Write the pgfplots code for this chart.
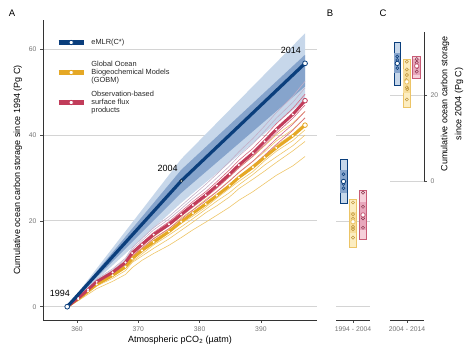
\documentclass[border=0pt]{standalone}
\usepackage{pgfplots}
\pgfplotsset{compat=1.18}
\usepackage{pgfplotstable}
\usepackage{fontspec}
\setmainfont{Liberation Sans}

\definecolor{navy}{RGB}{10,62,124}
\definecolor{bandlight}{RGB}{199,215,234}
\definecolor{banddark}{RGB}{134,164,204}
\definecolor{rose}{RGB}{193,60,90}
\definecolor{gold}{RGB}{229,168,37}
\definecolor{goldthin}{RGB}{238,198,105}
\definecolor{rosethin}{RGB}{214,104,130}
\definecolor{lilac}{RGB}{196,176,200}
\definecolor{goldbox}{RGB}{252,237,193}
\definecolor{goldboxin}{RGB}{247,222,158}
\definecolor{goldedge}{RGB}{236,196,102}
\definecolor{goldpt}{RGB}{190,148,58}
\definecolor{rosebox}{RGB}{246,208,218}
\definecolor{roseboxin}{RGB}{232,168,188}
\definecolor{roseedge}{RGB}{200,92,118}
\definecolor{rosept}{RGB}{140,55,78}

% cumulative uptake since 1994 against atmospheric pCO2
% p: pCO2; g1..g7: ocean models; r1..r6: flux products; gm, rm: ensemble means
\pgfplotstableread{
p      g1   g2   g3   g4   g5   g6   g7   r1   r2   r3   r4   r5   r6   gm   rm
358.4  0    0    0    0    0    0    0    0    0    0    0    0    0    0    0
360.2  1.4  1.6  1.8  1.7  1.9  1.9  2.0  1.8  1.9  2.0  2.1  2.1  2.2  1.8  2.0
361.8  2.9  3.4  3.3  3.6  3.6  3.8  3.9  3.7  3.8  3.9  4.1  4.2  4.4  3.6  4.0
363.2  4.2  4.8  4.9  5.2  5.4  5.3  5.6  5.3  5.5  5.7  6.0  6.2  6.4  5.2  5.8
365.8  5.9  6.6  7.0  7.1  7.5  7.7  7.9  7.3  7.6  7.8  8.3  8.5  8.8  7.3  8.0
367.9  7.5  8.4  8.9  9.0  9.3  9.6  10.0 9.5  9.8  10.1 10.6 11.0 11.3 9.3  10.3
369.0  9.1  10.3 10.5 11.0 11.4 11.8 12.1 11.4 11.8 12.2 12.9 13.3 13.7 11.2 12.5
370.6  10.8 11.8 12.3 12.9 13.2 13.5 14.1 13.3 13.7 14.2 14.9 15.4 15.9 13.1 14.5
372.5  12.4 13.6 14.4 14.6 15.4 15.8 16.3 15.4 15.9 16.5 17.3 17.9 18.4 15.1 16.8
375.0  14.3 15.8 16.7 17.2 17.6 18.1 18.9 17.6 18.2 18.8 19.8 20.4 21.0 17.5 19.2
377.0  16.1 17.8 18.6 19.4 20.1 20.7 21.4 19.7 20.4 21.1 22.2 22.8 23.5 19.8 21.5
378.9  17.9 19.7 20.5 21.1 21.9 22.6 23.5 21.7 22.5 23.2 24.5 25.2 25.9 21.8 23.7
381.0  19.7 21.9 22.7 23.2 24.3 25.0 25.8 23.8 24.7 25.5 26.8 27.6 28.5 23.9 26.0
382.8  21.3 23.5 24.6 25.3 26.1 26.8 27.9 25.9 26.8 27.6 29.1 30.0 30.9 25.9 28.2
384.9  23.2 25.6 26.6 27.6 28.6 29.4 30.4 28.3 29.3 30.3 31.9 32.8 33.8 28.2 30.9
386.4  24.8 27.5 28.4 29.2 30.4 31.2 32.5 30.3 31.3 32.3 34.1 35.1 36.1 30.1 33.0
388.7  26.8 29.7 30.8 31.5 33.0 33.9 35.0 32.8 33.9 35.1 36.9 38.0 39.2 32.5 35.8
390.6  28.7 31.6 33.0 34.0 35.1 36.1 37.5 35.3 36.5 37.7 39.7 40.9 42.1 34.8 38.5
392.5  30.6 33.6 34.9 36.2 37.6 38.6 40.0 37.8 39.1 40.4 42.6 43.9 45.2 37.0 41.3
395.2  32.8 36.3 37.5 38.7 40.2 41.3 42.8 41.1 42.5 43.9 46.2 47.6 49.0 39.8 44.8
397.2  35.0 38.5 40.0 41.2 42.8 44.0 45.5 44.0 45.5 47.0 49.5 51.0 52.5 42.3 48.0
}\tracks

\pgfplotsset{
  panel/.style={
    scale only axis, anchor=south west, clip=false,
    axis line style={-, draw=black!80, line width=0.9pt},
    tick style={draw=black!70, line width=0.6pt},
    tick align=outside, major tick length=3pt,
    ticklabel style={font=\fontsize{6.8}{8}\selectfont, text=black!55},
    /pgf/number format/assume math mode=true,
    ymajorgrids, grid style={draw=black!17, line width=0.8pt},
    label style={font=\fontsize{9}{10}\selectfont},
  },
}

\begin{document}
\begin{tikzpicture}
\path[use as bounding box] (0,0) rectangle (474pt,355pt);

% ---------------- panel A ----------------
\begin{axis}[panel,
  at={(43pt,35pt)}, width=274pt, height=300pt,
  xmin=354.45, xmax=399.15, ymin=-3.1, ymax=66.8,
  axis x line*=bottom, axis y line*=left,
  xtick={360,370,380,390}, ytick={0,20,40,60},
  xlabel={Atmospheric pCO\textsubscript{2} (µatm)},
  ylabel={Cumulative ocean carbon storage since 1994 (Pg C)},
  xlabel style={yshift=2pt},
  legend cell align=left,
  legend image code/.code={
    \draw[#1, line width=4.5pt] (0pt,0pt) -- (25pt,0pt);
    \draw[#1, line width=0.8pt, fill=white] (12.5pt,0pt) circle (2.2pt);
  },
  legend style={draw=none, fill=none, at={(0.049,0.9633)}, anchor=north west,
    inner sep=0pt, outer sep=0pt, row sep=7pt, column sep=5.5pt,
    font=\fontsize{7.4}{7.7}\selectfont,
    nodes={minimum height=23pt, inner sep=0pt, align=left, text=black!85}},
]
\addlegendimage{draw=navy}
\addlegendentry{eMLR(C*)}
\addlegendimage{draw=gold}
\addlegendentry{Global Ocean\\Biogeochemical Models\\(GOBM)}
\addlegendimage{draw=rose}
\addlegendentry{Observation-based\\surface flux\\products}

% uncertainty envelopes of the eMLR(C*) estimate
\addplot[forget plot, fill=bandlight, draw=none]
  coordinates {(358.4,0) (377.0,34.4) (397.2,63.7) (397.2,48.2) (377.0,24.2)} --cycle;
\addplot[forget plot, fill=banddark, draw=none]
  coordinates {(358.4,0) (377.0,31.9) (397.2,58.7) (397.2,51.3) (377.0,26.5)} --cycle;

% individual models and products
\pgfplotsinvokeforeach{g1,g2,g3,g4,g5,g6,g7}{
  \addplot[forget plot, goldthin, line width=0.6pt] table[x=p, y=#1] {\tracks};
}
\pgfplotsinvokeforeach{r1,r2,r3,r4}{
  \addplot[forget plot, rosethin, line width=0.6pt] table[x=p, y=#1] {\tracks};
}
\pgfplotsinvokeforeach{r5,r6}{
  \addplot[forget plot, lilac, line width=0.6pt] table[x=p, y=#1] {\tracks};
}

% ensemble means
\addplot[forget plot, gold, line width=3pt, line join=round] table[x=p, y=gm] {\tracks};
\addplot[forget plot, only marks, mark=*, mark size=0.8pt, white] table[x=p, y=gm] {\tracks};
\addplot[forget plot, only marks, mark=*, mark size=2.3pt, draw=gold, fill=white, line width=0.8pt]
  coordinates {(397.2,42.3)};
\addplot[forget plot, rose, line width=3pt, line join=round] table[x=p, y=rm] {\tracks};
\addplot[forget plot, only marks, mark=*, mark size=0.8pt, white] table[x=p, y=rm] {\tracks};
\addplot[forget plot, only marks, mark=*, mark size=2.3pt, draw=rose, fill=white, line width=0.8pt]
  coordinates {(397.2,48.0)};

% eMLR(C*)
\addplot[forget plot, navy, line width=3.2pt, line join=round]
  coordinates {(358.4,0) (377.0,29.3) (397.2,56.7)};
\addplot[forget plot, only marks, mark=*, mark size=2.4pt, draw=navy, fill=white, line width=0.8pt]
  coordinates {(358.4,0) (397.2,56.7)};
\addplot[forget plot, only marks, mark=*, mark size=1.4pt, draw=none, fill=white!85!cyan]
  coordinates {(377.0,29.3)};

\node[font=\fontsize{9}{10}\selectfont] at (axis cs:357.2,3.2) {1994};
\node[font=\fontsize{9}{10}\selectfont] at (axis cs:374.8,32.3) {2004};
\node[font=\fontsize{9}{10}\selectfont] at (axis cs:394.9,59.6) {2014};
\end{axis}

% ---------------- panel B ----------------
\begin{axis}[panel,
  at={(336pt,35pt)}, width=34pt, height=206.3pt,
  xmin=0, xmax=34, ymin=-3.1, ymax=45,
  axis x line*=bottom, axis y line*=left,
  y axis line style={draw=none}, ytick style={draw=none},
  ytick={0,20,40}, yticklabels={,,},
  xtick={17}, xticklabels={1994 - 2004},
]
\addplot[fill=bandlight, draw=navy, line width=0.8pt]
  coordinates {(4,24.2) (11,24.2) (11,34.4) (4,34.4)} --cycle;
\addplot[fill=banddark, draw=none]
  coordinates {(4.4,26.5) (10.6,26.5) (10.6,31.9) (4.4,31.9)} --cycle;
\addplot[fill=goldbox, draw=goldedge, line width=0.8pt]
  coordinates {(13.5,13.8) (20.5,13.8) (20.5,25.0) (13.5,25.0)} --cycle;
\addplot[fill=goldboxin, draw=none]
  coordinates {(13.9,17.1) (20.1,17.1) (20.1,22.1) (13.9,22.1)} --cycle;
\addplot[fill=rosebox, draw=roseedge, line width=0.8pt]
  coordinates {(23.3,15.7) (30.7,15.7) (30.7,27.0) (23.3,27.0)} --cycle;
\addplot[fill=roseboxin, draw=none]
  coordinates {(23.7,17.9) (30.3,17.9) (30.3,24.5) (23.7,24.5)} --cycle;

\addplot[only marks, mark=*, mark size=1.5pt, draw=navy, fill=banddark, line width=0.5pt]
  coordinates {(7.5,30.9) (7.5,28.6) (7.5,27.6)};
\addplot[only marks, mark=o, mark size=1.6pt, draw=goldpt, line width=0.5pt]
  coordinates {(17,24.3) (17,21.6) (17,20.5) (17,18.6) (17,18.1) (17,16.1)};
\addplot[only marks, mark=o, mark size=1.6pt, draw=rosept, line width=0.5pt]
  coordinates {(27,26.6) (27,23.3) (27,20.6) (27,18.4)};

\addplot[only marks, mark=*, mark size=2.2pt, draw=navy, fill=white, line width=0.8pt]
  coordinates {(7.5,29.2)};
\addplot[only marks, mark=*, mark size=2.2pt, draw=goldedge, fill=white, line width=0.8pt]
  coordinates {(17,19.8)};
\addplot[only marks, mark=*, mark size=2.2pt, draw=roseedge, fill=white, line width=0.8pt]
  coordinates {(27,21.4)};
\end{axis}

% ---------------- panel C ----------------
\begin{axis}[panel,
  at={(390pt,35pt)}, width=34pt, height=287.9pt,
  xmin=0, xmax=34, ymin=-32.4, ymax=34.7,
  axis x line*=bottom, axis y line*=right,
  y axis line style={draw=none},
  ytick={0,20}, xtick={17}, xticklabels={2004 - 2014},
]
\addplot[fill=bandlight, draw=navy, line width=0.8pt]
  coordinates {(4,22.3) (10.7,22.3) (10.7,32.4) (4,32.4)} --cycle;
\addplot[fill=banddark, draw=none]
  coordinates {(4.4,25.1) (10.3,25.1) (10.3,29.9) (4.4,29.9)} --cycle;
\addplot[fill=goldbox, draw=goldedge, line width=0.8pt]
  coordinates {(13,17.2) (20.7,17.2) (20.7,28.4) (13,28.4)} --cycle;
\addplot[fill=goldboxin, draw=none]
  coordinates {(13.4,20.6) (20.3,20.6) (20.3,26.2) (13.4,26.2)} --cycle;
\addplot[fill=rosebox, draw=roseedge, line width=0.8pt]
  coordinates {(22.7,23.9) (30.7,23.9) (30.7,29.1) (22.7,29.1)} --cycle;
\addplot[fill=roseboxin, draw=none]
  coordinates {(23.1,24.8) (30.3,24.8) (30.3,28.4) (23.1,28.4)} --cycle;

\addplot[only marks, mark=*, mark size=1.5pt, draw=navy, fill=banddark, line width=0.5pt]
  coordinates {(7.3,29.0) (7.3,28.2) (7.3,26.3)};
\addplot[only marks, mark=o, mark size=1.6pt, draw=goldpt, line width=0.5pt]
  coordinates {(16.8,27.8) (16.8,26.0) (16.8,24.7) (16.3,23.5) (16.8,21.8) (17.3,21.4) (16.8,19.0)};
\addplot[only marks, mark=o, mark size=1.6pt, draw=rosept, line width=0.5pt]
  coordinates {(26.7,28.4) (26.7,27.6) (27.2,26.5) (26.7,25.5)};

\addplot[only marks, mark=*, mark size=2.2pt, draw=navy, fill=white, line width=0.8pt]
  coordinates {(7.3,27.4)};
\addplot[only marks, mark=*, mark size=2.2pt, draw=goldedge, fill=white, line width=0.8pt]
  coordinates {(16.8,23.1)};
\addplot[only marks, mark=*, mark size=2.2pt, draw=roseedge, fill=white, line width=0.8pt]
  coordinates {(26.7,26.8)};

\draw[black!80, line width=0.9pt] (axis cs:34,0) -- (axis cs:34,34.7);
\end{axis}

\node[rotate=90, align=center, font=\fontsize{9}{14}\selectfont] at (452pt,251pt)
  {Cumulative ocean carbon storage\\since 2004 (Pg C)};

\node[font=\fontsize{9.5}{10}\selectfont] at (12pt,342pt) {A};
\node[font=\fontsize{9.5}{10}\selectfont] at (330pt,342pt) {B};
\node[font=\fontsize{9.5}{10}\selectfont] at (383pt,342pt) {C};
\end{tikzpicture}
\end{document}
